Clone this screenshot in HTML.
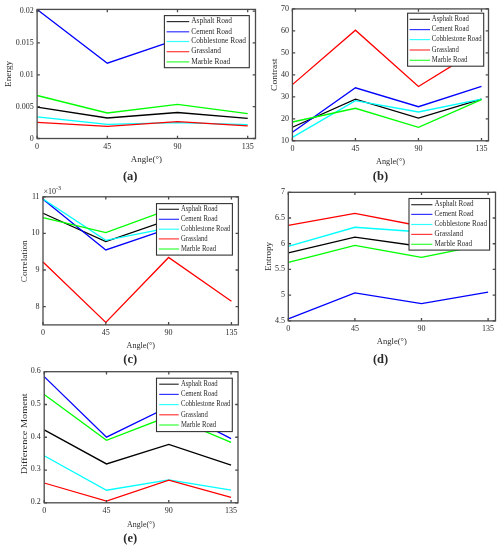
<!DOCTYPE html>
<html><head><meta charset="utf-8"><title>GLCM features</title>
<style>
html,body{margin:0;padding:0;background:#fff;}
body{width:503px;height:550px;overflow:hidden;}
svg{display:block;font-family:"Liberation Serif", serif;will-change:transform;}
svg text{fill:#2a2a2a;}
</style></head>
<body>
<svg width="503" height="550" viewBox="0 0 503 550">
<rect width="503" height="550" fill="#fff"/>
<g>
<polyline points="37.1,107.1 107.3,118 177.5,112.5 247.7,118.3" fill="none" stroke="#000000" stroke-width="1.3" stroke-linejoin="miter"/>
<polyline points="37.1,9.4 107.3,63.2 177.5,39.4 247.7,25" fill="none" stroke="#0000ff" stroke-width="1.3" stroke-linejoin="miter"/>
<polyline points="37.1,116.9 107.3,124.4 177.5,122.6 247.7,124.6" fill="none" stroke="#00ffff" stroke-width="1.3" stroke-linejoin="miter"/>
<polyline points="37.1,122.4 107.3,126.4 177.5,121.6 247.7,125.9" fill="none" stroke="#ff0000" stroke-width="1.3" stroke-linejoin="miter"/>
<polyline points="37.1,95.5 107.3,113 177.5,104.4 247.7,113.6" fill="none" stroke="#00ff00" stroke-width="1.3" stroke-linejoin="miter"/>
<rect x="37.1" y="9.4" width="218.4" height="129.1" fill="none" stroke="#4a4a4a" stroke-width="1.3"/>
<path d="M37.1 138.5v-2.8M37.1 9.4v2.8M107.3 138.5v-2.8M107.3 9.4v2.8M177.5 138.5v-2.8M177.5 9.4v2.8M247.7 138.5v-2.8M247.7 9.4v2.8M37.1 138.5h2.8M255.5 138.5h-2.8M37.1 106.65h2.8M255.5 106.65h-2.8M37.1 74.8h2.8M255.5 74.8h-2.8M37.1 42.95h2.8M255.5 42.95h-2.8M37.1 11.1h2.8M255.5 11.1h-2.8" stroke="#4a4a4a" stroke-width="1.3" fill="none"/>
<text x="37.1" y="148.9" text-anchor="middle" font-size="8.0">0</text>
<text x="107.3" y="148.9" text-anchor="middle" font-size="8.0">45</text>
<text x="177.5" y="148.9" text-anchor="middle" font-size="8.0">90</text>
<text x="247.7" y="148.9" text-anchor="middle" font-size="8.0">135</text>
<text x="33.7" y="140.5" text-anchor="end" font-size="8.0">0</text>
<text x="33.7" y="108.65" text-anchor="end" font-size="8.0">0.005</text>
<text x="33.7" y="76.8" text-anchor="end" font-size="8.0">0.01</text>
<text x="33.7" y="44.95" text-anchor="end" font-size="8.0">0.015</text>
<text x="33.7" y="13.1" text-anchor="end" font-size="8.0">0.02</text>
<rect x="164.4" y="15.6" width="84.9" height="52.1" fill="#fff" stroke="#333" stroke-width="1.1"/>
<path d="M166.6 21.6H189.2" stroke="#303030" stroke-width="1.2"/>
<text x="191.2" y="23.3" font-size="7.2" textLength="40.71" lengthAdjust="spacingAndGlyphs">Asphalt Road</text>
<path d="M166.6 31.8H189.2" stroke="#3434ff" stroke-width="1.2"/>
<text x="191.2" y="33.5" font-size="7.2" textLength="40.71" lengthAdjust="spacingAndGlyphs">Cement Road</text>
<path d="M166.6 41.5H189.2" stroke="#34ffff" stroke-width="1.2"/>
<text x="191.2" y="43.2" font-size="7.2" textLength="54.76" lengthAdjust="spacingAndGlyphs">Cobblestone Road</text>
<path d="M166.6 51.7H189.2" stroke="#ff3a3a" stroke-width="1.2"/>
<text x="191.2" y="53.4" font-size="7.2" textLength="29.75" lengthAdjust="spacingAndGlyphs">Grassland</text>
<path d="M166.6 61.9H189.2" stroke="#34ff34" stroke-width="1.2"/>
<text x="191.2" y="63.6" font-size="7.2" textLength="39.05" lengthAdjust="spacingAndGlyphs">Marble Road</text>
<text transform="translate(10.5 73.9) rotate(-90)" text-anchor="middle" font-size="9.0" textLength="26" lengthAdjust="spacingAndGlyphs">Energy</text>
<text x="146.4" y="162" text-anchor="middle" font-size="9.0" textLength="31.3" lengthAdjust="spacingAndGlyphs">Angle(&#176;)</text>
<text x="130.2" y="179.6" text-anchor="middle" font-size="12.5" font-weight="bold">(a)</text>
</g>
<g>
<polyline points="292.4,127.28 355.43,99.25 418.46,118.16 481.5,99.03" fill="none" stroke="#000000" stroke-width="1.3" stroke-linejoin="miter"/>
<polyline points="292.4,132.34 355.43,87.82 418.46,106.73 481.5,86.28" fill="none" stroke="#0000ff" stroke-width="1.3" stroke-linejoin="miter"/>
<polyline points="292.4,137.39 355.43,100.57 418.46,112 481.5,99.03" fill="none" stroke="#00ffff" stroke-width="1.3" stroke-linejoin="miter"/>
<polyline points="292.4,84.63 355.43,30.22 418.46,86.5 481.5,47.59" fill="none" stroke="#ff0000" stroke-width="1.3" stroke-linejoin="miter"/>
<polyline points="292.4,122 355.43,108.26 418.46,127.39 481.5,99.69" fill="none" stroke="#00ff00" stroke-width="1.3" stroke-linejoin="miter"/>
<rect x="292.4" y="8.9" width="196.1" height="131.9" fill="none" stroke="#4a4a4a" stroke-width="1.3"/>
<path d="M292.4 140.8v-2.8M292.4 8.9v2.8M355.43 140.8v-2.8M355.43 8.9v2.8M418.46 140.8v-2.8M418.46 8.9v2.8M481.5 140.8v-2.8M481.5 8.9v2.8M292.4 140.8h2.8M488.5 140.8h-2.8M292.4 118.82h2.8M488.5 118.82h-2.8M292.4 96.83h2.8M488.5 96.83h-2.8M292.4 74.85h2.8M488.5 74.85h-2.8M292.4 52.87h2.8M488.5 52.87h-2.8M292.4 30.88h2.8M488.5 30.88h-2.8M292.4 8.9h2.8M488.5 8.9h-2.8" stroke="#4a4a4a" stroke-width="1.3" fill="none"/>
<text x="292.4" y="151.2" text-anchor="middle" font-size="8.0">0</text>
<text x="355.43" y="151.2" text-anchor="middle" font-size="8.0">45</text>
<text x="418.46" y="151.2" text-anchor="middle" font-size="8.0">90</text>
<text x="481.5" y="151.2" text-anchor="middle" font-size="8.0">135</text>
<text x="289" y="142.9" text-anchor="end" font-size="8.0">10</text>
<text x="289" y="120.92" text-anchor="end" font-size="8.0">20</text>
<text x="289" y="98.93" text-anchor="end" font-size="8.0">30</text>
<text x="289" y="76.95" text-anchor="end" font-size="8.0">40</text>
<text x="289" y="54.97" text-anchor="end" font-size="8.0">50</text>
<text x="289" y="32.98" text-anchor="end" font-size="8.0">60</text>
<text x="289" y="11" text-anchor="end" font-size="8.0">70</text>
<rect x="407.6" y="13.2" width="76.1" height="53" fill="#fff" stroke="#333" stroke-width="1.1"/>
<path d="M409.6 19.3H430" stroke="#303030" stroke-width="1.2"/>
<text x="431.8" y="21" font-size="7.2" textLength="37.04" lengthAdjust="spacingAndGlyphs">Asphalt Road</text>
<path d="M409.6 29.6H430" stroke="#3434ff" stroke-width="1.2"/>
<text x="431.8" y="31.3" font-size="7.2" textLength="37.04" lengthAdjust="spacingAndGlyphs">Cement Road</text>
<path d="M409.6 39.6H430" stroke="#34ffff" stroke-width="1.2"/>
<text x="431.8" y="41.3" font-size="7.2" textLength="49.83" lengthAdjust="spacingAndGlyphs">Cobblestone Road</text>
<path d="M409.6 50H430" stroke="#ff3a3a" stroke-width="1.2"/>
<text x="431.8" y="51.7" font-size="7.2" textLength="27.07" lengthAdjust="spacingAndGlyphs">Grassland</text>
<path d="M409.6 60.3H430" stroke="#34ff34" stroke-width="1.2"/>
<text x="431.8" y="62" font-size="7.2" textLength="35.53" lengthAdjust="spacingAndGlyphs">Marble Road</text>
<text transform="translate(277 74.7) rotate(-90)" text-anchor="middle" font-size="9.0" textLength="32.4" lengthAdjust="spacingAndGlyphs">Contrast</text>
<text x="390.5" y="164.3" text-anchor="middle" font-size="9.0" textLength="28.9" lengthAdjust="spacingAndGlyphs">Angle(&#176;)</text>
<text x="380.5" y="179.8" text-anchor="middle" font-size="12.5" font-weight="bold">(b)</text>
</g>
<g>
<polyline points="43,213.23 105.81,241.56 168.61,219.86 231.42,226.08" fill="none" stroke="#000000" stroke-width="1.3" stroke-linejoin="miter"/>
<polyline points="43,199.22 105.81,249.94 168.61,228.64 231.42,233.4" fill="none" stroke="#0000ff" stroke-width="1.3" stroke-linejoin="miter"/>
<polyline points="43,199 105.81,240.35 168.61,227.91 231.42,229.74" fill="none" stroke="#00ffff" stroke-width="1.3" stroke-linejoin="miter"/>
<polyline points="43,261.95 105.81,322.41 168.61,257.45 231.42,301.33" fill="none" stroke="#ff0000" stroke-width="1.3" stroke-linejoin="miter"/>
<polyline points="43,217.66 105.81,232.67 168.61,209.61 231.42,215.1" fill="none" stroke="#00ff00" stroke-width="1.3" stroke-linejoin="miter"/>
<rect x="43" y="196.8" width="195.4" height="128.1" fill="none" stroke="#4a4a4a" stroke-width="1.3"/>
<path d="M43 324.9v-2.8M43 196.8v2.8M105.81 324.9v-2.8M105.81 196.8v2.8M168.61 324.9v-2.8M168.61 196.8v2.8M231.42 324.9v-2.8M231.42 196.8v2.8M43 306.6h2.8M238.4 306.6h-2.8M43 270h2.8M238.4 270h-2.8M43 233.4h2.8M238.4 233.4h-2.8M43 196.8h2.8M238.4 196.8h-2.8" stroke="#4a4a4a" stroke-width="1.3" fill="none"/>
<text x="43" y="335.3" text-anchor="middle" font-size="8.0">0</text>
<text x="105.81" y="335.3" text-anchor="middle" font-size="8.0">45</text>
<text x="168.61" y="335.3" text-anchor="middle" font-size="8.0">90</text>
<text x="231.42" y="335.3" text-anchor="middle" font-size="8.0">135</text>
<text x="39.6" y="308.6" text-anchor="end" font-size="8.0">8</text>
<text x="39.6" y="272" text-anchor="end" font-size="8.0">9</text>
<text x="39.6" y="235.4" text-anchor="end" font-size="8.0">10</text>
<text x="39.6" y="198.8" text-anchor="end" font-size="8.0">11</text>
<text x="43.5" y="193.8" font-size="8.0">&#215;10<tspan font-size="6" dy="-3.5">-3</tspan></text>
<rect x="156.5" y="203.6" width="75.9" height="51.5" fill="#fff" stroke="#333" stroke-width="1.1"/>
<path d="M158.8 209.3H179" stroke="#303030" stroke-width="1.2"/>
<text x="180.9" y="211" font-size="7.2" textLength="36.66" lengthAdjust="spacingAndGlyphs">Asphalt Road</text>
<path d="M158.8 219.3H179" stroke="#3434ff" stroke-width="1.2"/>
<text x="180.9" y="221" font-size="7.2" textLength="36.66" lengthAdjust="spacingAndGlyphs">Cement Road</text>
<path d="M158.8 229.2H179" stroke="#34ffff" stroke-width="1.2"/>
<text x="180.9" y="230.9" font-size="7.2" textLength="49.31" lengthAdjust="spacingAndGlyphs">Cobblestone Road</text>
<path d="M158.8 238.9H179" stroke="#ff3a3a" stroke-width="1.2"/>
<text x="180.9" y="240.6" font-size="7.2" textLength="26.79" lengthAdjust="spacingAndGlyphs">Grassland</text>
<path d="M158.8 249H179" stroke="#34ff34" stroke-width="1.2"/>
<text x="180.9" y="250.7" font-size="7.2" textLength="35.16" lengthAdjust="spacingAndGlyphs">Marble Road</text>
<text transform="translate(26.8 261.3) rotate(-90)" text-anchor="middle" font-size="9.0" textLength="41.9" lengthAdjust="spacingAndGlyphs">Correlation</text>
<text x="140.8" y="347.9" text-anchor="middle" font-size="9.0" textLength="28.5" lengthAdjust="spacingAndGlyphs">Angle(&#176;)</text>
<text x="130.3" y="362.8" text-anchor="middle" font-size="12.5" font-weight="bold">(c)</text>
</g>
<g>
<polyline points="288.3,252.84 354.9,237.05 421.5,246.47 488.1,238.6" fill="none" stroke="#000000" stroke-width="1.3" stroke-linejoin="miter"/>
<polyline points="288.3,318.84 354.9,292.87 421.5,303.67 488.1,292.2" fill="none" stroke="#0000ff" stroke-width="1.3" stroke-linejoin="miter"/>
<polyline points="288.3,246.41 354.9,227.28 421.5,232.01 488.1,228.31" fill="none" stroke="#00ffff" stroke-width="1.3" stroke-linejoin="miter"/>
<polyline points="288.3,225.32 354.9,213.39 421.5,226.25 488.1,223.16" fill="none" stroke="#ff0000" stroke-width="1.3" stroke-linejoin="miter"/>
<polyline points="288.3,262.46 354.9,245.44 421.5,257.37 488.1,243.89" fill="none" stroke="#00ff00" stroke-width="1.3" stroke-linejoin="miter"/>
<rect x="288.3" y="192.3" width="207.2" height="128.6" fill="none" stroke="#4a4a4a" stroke-width="1.3"/>
<path d="M288.3 320.9v-2.8M288.3 192.3v2.8M354.9 320.9v-2.8M354.9 192.3v2.8M421.5 320.9v-2.8M421.5 192.3v2.8M488.1 320.9v-2.8M488.1 192.3v2.8M288.3 320.9h2.8M495.5 320.9h-2.8M288.3 295.18h2.8M495.5 295.18h-2.8M288.3 269.46h2.8M495.5 269.46h-2.8M288.3 243.74h2.8M495.5 243.74h-2.8M288.3 218.02h2.8M495.5 218.02h-2.8M288.3 192.3h2.8M495.5 192.3h-2.8" stroke="#4a4a4a" stroke-width="1.3" fill="none"/>
<text x="288.3" y="331.3" text-anchor="middle" font-size="8.0">0</text>
<text x="354.9" y="331.3" text-anchor="middle" font-size="8.0">45</text>
<text x="421.5" y="331.3" text-anchor="middle" font-size="8.0">90</text>
<text x="488.1" y="331.3" text-anchor="middle" font-size="8.0">135</text>
<text x="284.9" y="322.85" text-anchor="end" font-size="8.0">4.5</text>
<text x="284.9" y="297.13" text-anchor="end" font-size="8.0">5</text>
<text x="284.9" y="271.41" text-anchor="end" font-size="8.0">5.5</text>
<text x="284.9" y="245.69" text-anchor="end" font-size="8.0">6</text>
<text x="284.9" y="219.97" text-anchor="end" font-size="8.0">6.5</text>
<text x="284.9" y="194.25" text-anchor="end" font-size="8.0">7</text>
<rect x="409" y="198.5" width="80.6" height="51.6" fill="#fff" stroke="#333" stroke-width="1.1"/>
<path d="M411.2 204.7H432.4" stroke="#303030" stroke-width="1.2"/>
<text x="434.5" y="206.4" font-size="7.2" textLength="39.07" lengthAdjust="spacingAndGlyphs">Asphalt Road</text>
<path d="M411.2 214.4H432.4" stroke="#3434ff" stroke-width="1.2"/>
<text x="434.5" y="216.1" font-size="7.2" textLength="39.06" lengthAdjust="spacingAndGlyphs">Cement Road</text>
<path d="M411.2 224.5H432.4" stroke="#34ffff" stroke-width="1.2"/>
<text x="434.5" y="226.2" font-size="7.2" textLength="52.55" lengthAdjust="spacingAndGlyphs">Cobblestone Road</text>
<path d="M411.2 234.4H432.4" stroke="#ff3a3a" stroke-width="1.2"/>
<text x="434.5" y="236.1" font-size="7.2" textLength="28.55" lengthAdjust="spacingAndGlyphs">Grassland</text>
<path d="M411.2 244.3H432.4" stroke="#34ff34" stroke-width="1.2"/>
<text x="434.5" y="246" font-size="7.2" textLength="37.47" lengthAdjust="spacingAndGlyphs">Marble Road</text>
<text transform="translate(270.5 256.5) rotate(-90)" text-anchor="middle" font-size="9.0" textLength="29" lengthAdjust="spacingAndGlyphs">Entropy</text>
<text x="391.8" y="344.3" text-anchor="middle" font-size="9.0" textLength="30" lengthAdjust="spacingAndGlyphs">Angle(&#176;)</text>
<text x="380.6" y="362.8" text-anchor="middle" font-size="12.5" font-weight="bold">(d)</text>
</g>
<g>
<polyline points="44.2,429.91 106.49,463.93 168.79,444.33 231.08,465.01" fill="none" stroke="#000000" stroke-width="1.3" stroke-linejoin="miter"/>
<polyline points="44.2,376.62 106.49,437.18 168.79,406.67 231.08,438.56" fill="none" stroke="#0000ff" stroke-width="1.3" stroke-linejoin="miter"/>
<polyline points="44.2,455.7 106.49,490.21 168.79,479.79 231.08,490.02" fill="none" stroke="#00ffff" stroke-width="1.3" stroke-linejoin="miter"/>
<polyline points="44.2,483 106.49,501 168.79,480.19 231.08,497.39" fill="none" stroke="#ff0000" stroke-width="1.3" stroke-linejoin="miter"/>
<polyline points="44.2,394.58 106.49,440.3 168.79,416.27 231.08,442.4" fill="none" stroke="#00ff00" stroke-width="1.3" stroke-linejoin="miter"/>
<rect x="44.2" y="371.7" width="193.8" height="131.1" fill="none" stroke="#4a4a4a" stroke-width="1.3"/>
<path d="M44.2 502.8v-2.8M44.2 371.7v2.8M106.49 502.8v-2.8M106.49 371.7v2.8M168.79 502.8v-2.8M168.79 371.7v2.8M231.08 502.8v-2.8M231.08 371.7v2.8M44.2 502.8h2.8M238 502.8h-2.8M44.2 470.03h2.8M238 470.03h-2.8M44.2 437.25h2.8M238 437.25h-2.8M44.2 404.48h2.8M238 404.48h-2.8M44.2 371.7h2.8M238 371.7h-2.8" stroke="#4a4a4a" stroke-width="1.3" fill="none"/>
<text x="44.2" y="513.2" text-anchor="middle" font-size="8.0">0</text>
<text x="106.49" y="513.2" text-anchor="middle" font-size="8.0">45</text>
<text x="168.79" y="513.2" text-anchor="middle" font-size="8.0">90</text>
<text x="231.08" y="513.2" text-anchor="middle" font-size="8.0">135</text>
<text x="40.8" y="504.1" text-anchor="end" font-size="8.0">0.2</text>
<text x="40.8" y="471.33" text-anchor="end" font-size="8.0">0.3</text>
<text x="40.8" y="438.55" text-anchor="end" font-size="8.0">0.4</text>
<text x="40.8" y="405.78" text-anchor="end" font-size="8.0">0.5</text>
<text x="40.8" y="373" text-anchor="end" font-size="8.0">0.6</text>
<rect x="156.5" y="378.2" width="75.8" height="53.4" fill="#fff" stroke="#333" stroke-width="1.1"/>
<path d="M159.2 384.2H178.7" stroke="#303030" stroke-width="1.2"/>
<text x="180.9" y="385.9" font-size="7.2" textLength="36.82" lengthAdjust="spacingAndGlyphs">Asphalt Road</text>
<path d="M159.2 394.4H178.7" stroke="#3434ff" stroke-width="1.2"/>
<text x="180.9" y="396.1" font-size="7.2" textLength="36.82" lengthAdjust="spacingAndGlyphs">Cement Road</text>
<path d="M159.2 404.6H178.7" stroke="#34ffff" stroke-width="1.2"/>
<text x="180.9" y="406.3" font-size="7.2" textLength="49.53" lengthAdjust="spacingAndGlyphs">Cobblestone Road</text>
<path d="M159.2 414.8H178.7" stroke="#ff3a3a" stroke-width="1.2"/>
<text x="180.9" y="416.5" font-size="7.2" textLength="26.91" lengthAdjust="spacingAndGlyphs">Grassland</text>
<path d="M159.2 425H178.7" stroke="#34ff34" stroke-width="1.2"/>
<text x="180.9" y="426.7" font-size="7.2" textLength="35.32" lengthAdjust="spacingAndGlyphs">Marble Road</text>
<text transform="translate(27 433.8) rotate(-90)" text-anchor="middle" font-size="9.0" textLength="80.9" lengthAdjust="spacingAndGlyphs">Difference Moment</text>
<text x="141" y="526.8" text-anchor="middle" font-size="9.0" textLength="27.8" lengthAdjust="spacingAndGlyphs">Angle(&#176;)</text>
<text x="130.2" y="542.3" text-anchor="middle" font-size="12.5" font-weight="bold">(e)</text>
</g>
</svg>
</body></html>
